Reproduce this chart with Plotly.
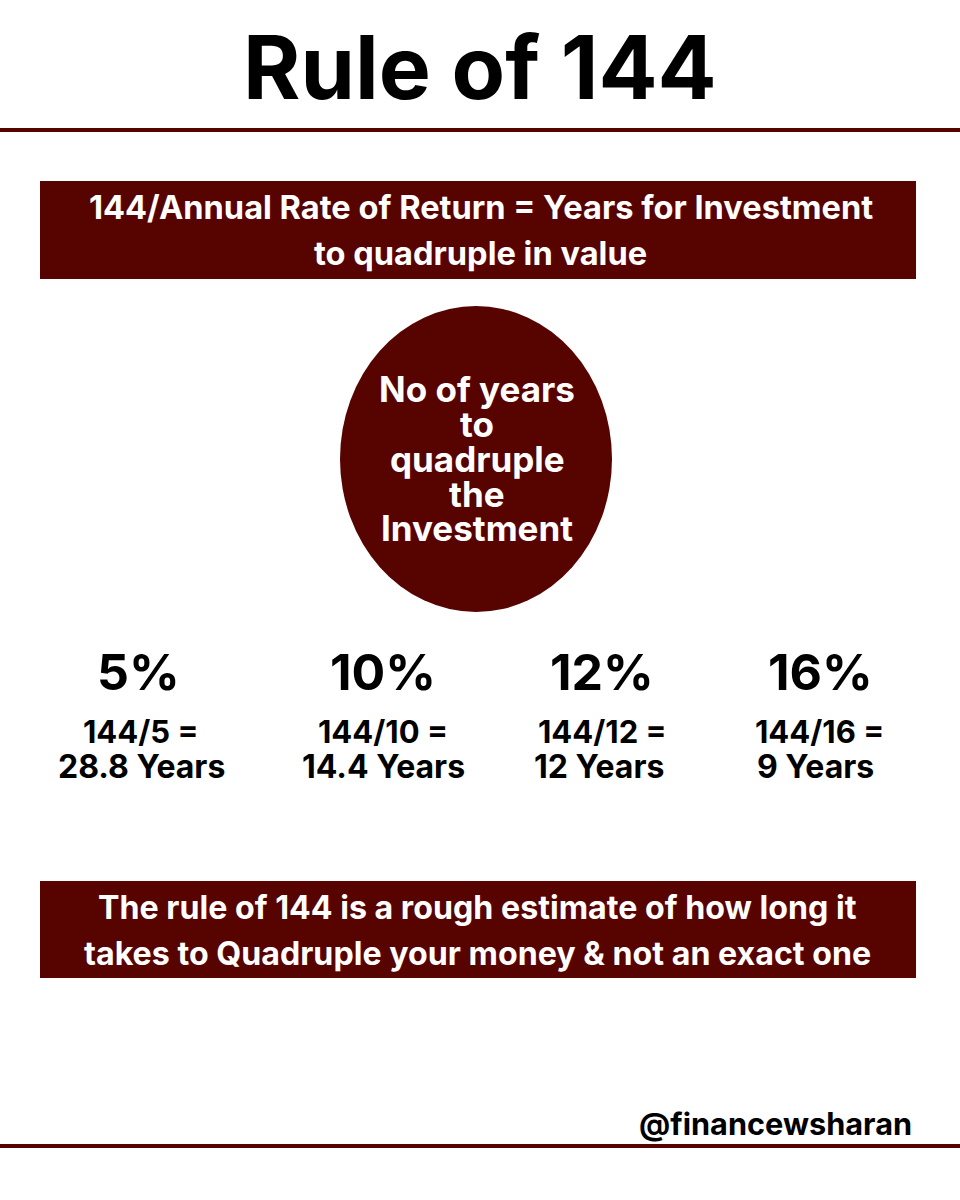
import plotly.graph_objects as go

title = "Rule of 144"
formula_lines = ["144/Annual Rate of Return = Years for Investment", "to quadruple in value"]
circle_lines = ["No of years", "to", "quadruple", "the", "Investment"]
rates = ["5%", "10%", "12%", "16%"]
calcs = ["144/5 =", "144/10 =", "144/12 =", "144/16 ="]
years = ["28.8 Years", "14.4 Years", "12 Years", "9 Years"]
note_lines = ["The rule of 144 is a rough estimate of how long it", "takes to Quadruple your money &amp; not an exact one"]
handle = "@financewsharan"

RED = "#570400"
FONT = "Inter"

fig = go.Figure()


def label(x, y, text, size, color="#000000", anchor="center", weight=700):
    fig.add_annotation(x=x, y=y, text=text, showarrow=False, xanchor=anchor, yanchor="middle",
                       font=dict(family=FONT, size=size, color=color, weight=weight))


def box(x0, y0, x1, y1):
    fig.add_shape(type="rect", x0=x0, y0=y0, x1=x1, y1=y1, fillcolor=RED, line_width=0, layer="below")


fig.add_shape(type="line", x0=0, x1=960, y0=130, y1=130, line=dict(color=RED, width=4))
fig.add_shape(type="line", x0=0, x1=960, y0=1146, y1=1146, line=dict(color=RED, width=4))
box(40, 181, 916, 279)
box(40, 881, 916, 978)
fig.add_shape(type="circle", x0=340, y0=306, x1=612, y1=612, fillcolor=RED, line_width=0, layer="below")

label(480, 67, title, 87.5)

for x, y, t in zip([481, 480], [207, 253], formula_lines):
    label(x, y, t, 32.6, "#ffffff")

for y, t in zip([389, 424, 459, 494, 528], circle_lines):
    label(477, y, t, 35, "#ffffff")

for x, t in zip([138, 383, 602, 820], rates):
    label(x, 672, t, 50)
for x, t in zip([141, 383, 602, 819], calcs):
    label(x, 731, t, 31)
for x, t in zip([141, 383, 599, 815], years):
    label(x, 766, t, 32)

for x, y, t in zip([477, 477], [907, 953], note_lines):
    label(x, y, t, 32.2, "#ffffff")

label(914, 1123, handle, 30.7, anchor="right")

fig.update_layout(width=960, height=1200, margin=dict(l=0, r=0, t=0, b=0),
                  paper_bgcolor="white", plot_bgcolor="white", showlegend=False)
fig.update_xaxes(range=[0, 960], visible=False, fixedrange=True)
fig.update_yaxes(range=[1200, 0], visible=False, fixedrange=True)

# page body has a default 8px margin
fig.write_html("out.html", config={"displayModeBar": False},
               post_script="document.body.style.margin='0';document.body.style.overflow='hidden';")
